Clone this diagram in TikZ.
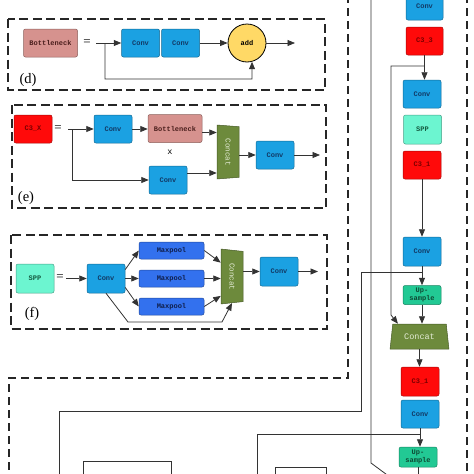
\documentclass[tikz,border=0pt]{standalone}
\usepackage{fontspec}
\setmainfont{Liberation Serif}
\setmonofont{Liberation Mono}
\usetikzlibrary{arrows.meta,shapes.geometric,calc}

\definecolor{convfill}{HTML}{1BA1E2}
\definecolor{convtext}{HTML}{123A66}
\definecolor{c3fill}{HTML}{FF0A0A}
\definecolor{c3text}{HTML}{7A0000}
\definecolor{bnfill}{HTML}{D6928E}
\definecolor{bntext}{HTML}{4A1E1C}
\definecolor{sppfill}{HTML}{6CF5D0}
\definecolor{spptext}{HTML}{145A40}
\definecolor{upfill}{HTML}{22C994}
\definecolor{uptext}{HTML}{0E4A34}
\definecolor{poolfill}{HTML}{3371EE}
\definecolor{pooltext}{HTML}{0F1E4A}
\definecolor{catfill}{HTML}{6D8A3C}
\definecolor{cattext}{HTML}{E4ECD6}
\definecolor{addfill}{HTML}{FFD966}
\definecolor{wiregray}{HTML}{333333}

\tikzset{
  box/.style={draw=#1!65!black, fill=#1, rounded corners=2pt, inner sep=0pt,
    line width=0.5pt, font=\fontsize{7}{8}\selectfont\ttfamily\bfseries},
  conv/.style={box=convfill, text=convtext, minimum width=38pt, minimum height=28pt},
  c3/.style={box=c3fill, text=c3text, minimum width=38pt, minimum height=28pt},
  bneck/.style={box=bnfill, text=bntext, minimum width=54pt, minimum height=28pt},
  spp/.style={box=sppfill, text=spptext, minimum width=38pt, minimum height=29pt},
  ups/.style={box=upfill, text=uptext, minimum width=38pt, minimum height=19pt,
    align=center, font=\fontsize{7}{6.5}\selectfont\ttfamily\bfseries},
  pool/.style={box=poolfill, text=pooltext, minimum width=65pt, minimum height=17pt},
  catv/.style={trapezium, trapezium stretches=true, draw=catfill!65!black, fill=catfill,
    text=cattext, rotate=-90, minimum width=#1, minimum height=22pt, inner sep=0pt,
    line width=0.5pt, font=\fontsize{7.5}{8}\selectfont\ttfamily},
  addc/.style={circle, draw=black, fill=addfill, minimum size=38pt, inner sep=0pt,
    line width=0.8pt, font=\fontsize{7}{8}\selectfont\ttfamily\bfseries},
  eqsign/.style={inner sep=0pt, font=\fontsize{13}{14}\selectfont},
  tag/.style={inner sep=0pt, font=\fontsize{14.5}{16}\selectfont},
  wire/.style={draw=wiregray, line width=0.8pt},
  arr/.style={wire, -{Triangle[length=7.5pt,width=6pt]}},
  panel/.style={draw=black!85, line width=1.5pt, dash pattern=on 9pt off 4.5pt},
  frame/.style={draw=black!85, line width=1.1pt, dash pattern=on 8pt off 5pt}
}

\begin{document}
\begin{tikzpicture}[x=1pt,y=-1pt]
\useasboundingbox (0,0) rectangle (474,474);

% (d)
\draw[panel] (8,19) rectangle (325,90);
\node[bneck] (bneckD) at (50.5,43) {Bottleneck};
\node[eqsign] (eqD) at (87,43) {=};
\coordinate (startD) at (96,43);
\coordinate (splitD) at (105,43);
\node[conv] (convD1) at (140.5,43) {Conv};
\node[conv] (convD2) at (180.5,43) {Conv};
\node[addc] (addD) at (247,43) {add};
\coordinate (outD) at (295,43);
\coordinate (skipD) at (252,79);
\draw[arr] (startD) -- (convD1);
\draw[arr] (convD2) -- (addD);
\draw[arr] (addD) -- (outD);
\draw[arr] (splitD) |- (skipD) -- (addD.-75);
\node[tag] (tagD) at (28,80) {(d)};

% (e)
\draw[panel] (12,105) rectangle (326,208);
\node[c3] (c3E) at (33,129) {C3\_X};
\node[eqsign] (eqE) at (58,129) {=};
\coordinate (startE) at (68,129);
\coordinate (splitE) at (72,129);
\node[conv] (convE1) at (113,129) {Conv};
\node[bneck] (bneckE) at (175,128.5) {Bottleneck};
\node[inner sep=0pt, font=\fontsize{8.5}{9}\selectfont\ttfamily] (multE) at (170,152) {x};
\node[catv=54pt, trapezium left angle=80, trapezium right angle=80] (catE) at (228,152) {Concat};
\node[conv] (convE2) at (168,180) {Conv};
\node[conv] (convE3) at (275,155) {Conv};
\coordinate (outE) at (320,155);
\coordinate (bE) at ([yshift=-4pt]bneckE.east);
\coordinate (cE) at ([yshift=7pt]convE2.east);
\draw[arr] (startE) -- (convE1);
\draw[arr] (convE1.east) -- (convE1.east -| bneckE.west);
\draw[arr] (bE) -- (bE -| catE.south);
\draw[arr] (splitE) |- (convE2);
\draw[arr] (cE) -- (cE -| catE.south);
\draw[arr] (convE3.west -| catE.north) -- (convE3.west);
\draw[arr] (convE3) -- (outE);
\node[tag] (tagE) at (26,198) {(e)};

% (f)
\draw[panel] (11,235) rectangle (327,329);
\node[spp] (sppF) at (35,278.5) {SPP};
\node[eqsign] (eqF) at (60,278) {=};
\coordinate (startF) at (66,278.5);
\node[conv, minimum height=29pt] (convF1) at (106,278.5) {Conv};
\node[pool] (mpF1) at (171.5,250.5) {Maxpool};
\node[pool] (mpF2) at (171.5,278.5) {Maxpool};
\node[pool] (mpF3) at (171.5,306.5) {Maxpool};
\node[catv=55pt, trapezium left angle=76, trapezium right angle=76] (catF) at (232,276.5) {Concat};
\node[conv, minimum height=29pt] (convF2) at (279,271.5) {Conv};
\coordinate (outF) at (318,271.5);
\coordinate (kF1) at (128,322);
\coordinate (kF2) at (222,322);
\draw[arr] (startF) -- (convF1);
\draw[arr] (convF1.25) -- (mpF1.west);
\draw[arr] (convF1.east) -- (mpF2.west);
\draw[arr] (convF1.-25) -- (mpF3.west);
\draw[arr] (mpF1.east) -- ($(catF.south)!0.5!(catF.bottom left corner)$);
\draw[arr] (mpF2.east) -- (mpF2.east -| catF.south);
\draw[arr] (mpF3.east) -- ($(catF.south)!0.7!(catF.bottom right corner)$);
\draw[arr] (convF1.south) -- (kF1) -- (kF2) -- (catF.east);
\draw[arr] (convF2.west -| catF.north) -- (convF2.west);
\draw[arr] (convF2) -- (outF);
\node[tag] (tagF) at (32,314) {(f)};

% outer frames
\draw[frame] (348,-5) -- (348,378) -- (9,378) -- (9,480);
\draw[frame] (467,-5) -- (467,480);

% right column
\node[conv, minimum width=37pt] (convR0) at (424.5,6) {Conv};
\node[c3, minimum width=37pt] (c3R3) at (424.5,41) {C3\_3};
\node[conv] (convR1) at (422,94) {Conv};
\node[spp] (sppR) at (422.5,129.5) {SPP};
\node[c3] (c3R1) at (422,165) {C3\_1};
\node[conv, minimum height=29pt] (convR2) at (422,251.5) {Conv};
\node[ups] (upR1) at (422,295) {Up-\\sample};
\node[trapezium, trapezium stretches=true, trapezium left angle=75, trapezium right angle=75,
  draw=catfill!65!black, fill=catfill, text=cattext, minimum width=59pt, minimum height=25pt,
  inner sep=0pt, line width=0.5pt, font=\fontsize{8.5}{9}\selectfont\ttfamily] (catR) at (419.5,336.5) {Concat};
\node[c3, minimum height=29pt] (c3R1b) at (420,381.5) {C3\_1};
\node[conv] (convR3) at (420,414) {Conv};
\node[ups, minimum height=20pt] (upR2) at (418,457) {Up-\\sample};

\coordinate (brR1) at (c3R3.south |- 0,66);
\coordinate (kR1) at (391,66);
\coordinate (kR2) at (391,315);
\coordinate (brR2) at (convR2.south |- 0,272);
\coordinate (brR3) at (convR3.south |- 0,434);
\coordinate (endR) at (upR2.south |- 0,480);

\draw[arr] (c3R3.south) -- (c3R3.south |- convR1.north);
\draw[arr] (brR1) -- (kR1) -- (kR2) -- ($(catR.top left corner)!0.1!(catR.top right corner)$);
\draw[arr] (c3R1.south) -- (c3R1.south |- convR2.north);
\draw[arr] (convR2.south) -- (upR1.north);
\draw[arr] (upR1.south) -- (upR1.south |- catR.north);
\draw[arr] (catR.south) -- (catR.south |- c3R1b.north);
\draw[arr] (convR3.south) -- (convR3.south |- upR2.north);
\draw[wire] (upR2.south) -- (endR);

% long wires
\draw[wire] (brR2) -- (361,272) -- (361,411) -- (59,411) -- (59,480);
\draw[wire] (brR3) -- (257,434) -- (257,480);
\draw[wire] (371,-5) -- (371,463) -- (394,480);

% boxes cut by the bottom edge
\draw[wire] (83,480) |- (171,461) -- (171,480);
\draw[wire] (275,480) |- (326,467) -- (326,480);
\end{tikzpicture}
\end{document}
